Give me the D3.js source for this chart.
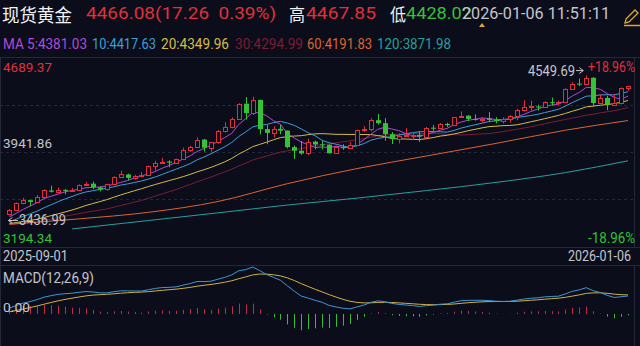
<!DOCTYPE html>
<html>
<head>
<meta charset="utf-8">
<script src="https://cdn.jsdelivr.net/npm/d3@7"></script>
<style>
  html, body { margin: 0; padding: 0; background: #0c0d1b; }
  svg { display: block; }
  text { font-family: Roboto, "Noto Sans", sans-serif; white-space: pre; }
</style>
</head>
<body>
<svg id="chart"></svg>
<script>
// daily candles, spot gold 2025-09-01 .. 2026-01-06
const dates = ['2025-09-01','2025-09-02','2025-09-03','2025-09-04','2025-09-05','2025-09-08','2025-09-09','2025-09-10','2025-09-11','2025-09-12',
  '2025-09-15','2025-09-16','2025-09-17','2025-09-18','2025-09-19','2025-09-22','2025-09-23','2025-09-24','2025-09-25','2025-09-26',
  '2025-09-29','2025-09-30','2025-10-01','2025-10-02','2025-10-03','2025-10-06','2025-10-07','2025-10-08','2025-10-09','2025-10-10',
  '2025-10-13','2025-10-14','2025-10-15','2025-10-16','2025-10-17','2025-10-20','2025-10-21','2025-10-22','2025-10-23','2025-10-24',
  '2025-10-27','2025-10-28','2025-10-29','2025-10-30','2025-10-31','2025-11-03','2025-11-04','2025-11-05','2025-11-06','2025-11-07',
  '2025-11-10','2025-11-11','2025-11-12','2025-11-13','2025-11-14','2025-11-17','2025-11-18','2025-11-19','2025-11-20','2025-11-21',
  '2025-11-24','2025-11-25','2025-11-26','2025-11-27','2025-11-28','2025-12-01','2025-12-02','2025-12-03','2025-12-04','2025-12-05',
  '2025-12-08','2025-12-09','2025-12-10','2025-12-11','2025-12-12','2025-12-15','2025-12-16','2025-12-17','2025-12-18','2025-12-19',
  '2025-12-22','2025-12-23','2025-12-24','2025-12-26','2025-12-29','2025-12-30','2025-12-31','2026-01-02','2026-01-05','2026-01-06'];
const opens = [3448,3477,3533,3559,3545,3587,3636,3626,3641,3634, 3643,3679,3690,3660,3644,3685,3746,3763,3736,3749,
  3760,3833,3858,3866,3857,3887,3960,3985,4041,3976, 4018,4110,4142,4208,4326,4251,4356,4124,4094,4126,
  4112,3981,3952,3930,4024,4002,4000,3932,3980,3977, 4000,4115,4128,4195,4171,4084,4046,4067,4077,4078,
  4065,4135,4131,4165,4155,4218,4231,4205,4200,4208, 4197,4189,4208,4228,4278,4300,4304,4302,4338,4332,
  4339,4444,4486,4479,4532,4332,4372,4319,4330,4448];
const highs = [3489,3540,3578,3564,3600,3646,3674,3658,3648,3656, 3685,3703,3707,3668,3687,3749,3791,3770,3761,3782,
  3834,3872,3895,3876,3889,3977,3990,4059,4045,4022, 4117,4179,4218,4330,4379,4381,4358,4162,4147,4159,
  4114,3994,4030,4047,4032,4030,4003,3991,4003,4020, 4120,4148,4210,4245,4211,4100,4090,4133,4100,4107,
  4141,4157,4172,4174,4220,4264,4234,4241,4218,4259, 4219,4218,4236,4286,4353,4350,4318,4345,4375,4351,
  4449,4497,4526,4549.69,4538,4402,4389,4402,4454,4467.85];
const lows = [3436.99,3470,3526,3511,3535,3578,3620,3621,3605,3627, 3634,3675,3646,3628,3634,3680,3735,3717,3722,3740,
  3758,3793,3849,3821,3846,3885,3942,3980,3945,3944, 4007,4097,4130,4202,4200,4237,4082,4004,4056,4083,
  3970,3886,3920,3918,3962,3962,3929,3930,3960,3972, 3997,4102,4104,4160,4032,4005,4010,4060,4040,4022,
  4040,4110,4127,4141,4150,4215,4187,4191,4176,4187, 4170,4169,4176,4195,4264,4272,4271,4297,4310,4309,
  4338,4436,4466,4478,4304,4330,4274,4316,4320,4428];
const closes = [3477,3533,3559,3545,3586,3636,3626,3641,3634,3643, 3679,3690,3660,3644,3685,3746,3763,3736,3749,3760,
  3833,3858,3866,3857,3887,3960,3985,4041,3976,4018, 4110,4142,4208,4326,4251,4356,4124,4094,4126,4112,
  3981,3952,3930,4024,4002,4000,3932,3980,3977,4000, 4115,4128,4195,4171,4084,4046,4067,4077,4078,4065,
  4135,4131,4165,4155,4218,4231,4205,4200,4208,4197, 4189,4208,4228,4278,4300,4304,4302,4338,4332,4339,
  4444,4486,4479,4532,4332,4372,4319,4330,4448,4466.08];
// closes before the window (2025-07-18 .. 2025-08-29), warm-up for MA / MACD
const prevCloses = [3350,3397,3431,3387,3368,3337,3314,3326,3275,3289, 3363,3373,3381,3369,3397,3398,3341,3348,3356,3335,
  3336,3332,3315,3347,3339,3371,3365,3393,3397,3416,3448];
// long averages (candle index -> value)
const ma60Idx  = [0, 10, 20, 30, 40, 50, 60, 70, 80, 89];
const ma60Val  = [3368, 3410, 3462, 3548, 3690, 3810, 3910, 4010, 4115, 4191.83];
const ma120Idx = [9, 20, 30, 40, 50, 60, 70, 80, 89];
const ma120Val = [3330, 3397, 3458, 3520, 3575, 3635, 3700, 3778, 3871.98];

const priceTop = 4689.37, priceBottom = 3194.34, priceMid = 3941.86;

const W = 640, H = 346;
const bg = '#0c0d1b', red = '#e0303c', green = '#36c236', grid = '#252838', grey = '#c4c4cc';
const maColors = {5: '#b04ad8', 10: '#3a9fd8', 20: '#d4bc46', 30: '#7a1c34', 60: '#dc6430', 120: '#279f9c'};

const svg = d3.select('#chart').attr('width', W).attr('height', H);
svg.append('rect').attr('width', W).attr('height', H).attr('fill', bg);

function label(s, x, yy, color, size, len, anchor, family) {
  const t = svg.append('text').attr('x', x).attr('y', yy).text(s)
    .attr('fill', color).style('font-size', size + 'px')
    .attr('text-anchor', anchor || 'start');
  if (family) t.style('font-family', family);
  if (len) t.attr('textLength', len).attr('lengthAdjust', 'spacingAndGlyphs');
  return t;
}

// ---------- header ----------
const cjk = '"Noto Sans CJK SC", sans-serif';
label('现货黄金', 2, 22, '#f2f2f2', 18, 70, 'start', cjk);
label('4466.08(17.26  0.39%)', 86, 19, red, 17, 190);
label('高', 289, 21, '#f2f2f2', 17, 16, 'start', cjk);
label('4467.85', 306, 19, red, 17, 70);
label('低', 390, 21, '#f2f2f2', 17, 16, 'start', cjk);
label('4428.02', 406, 19, green, 17, 66);
label('2026-01-06 11:51:11', 462, 19, grey, 16, 148);
svg.append('path').attr('d', 'M479,27 L485,27 L482,23 Z').attr('fill', '#d8a830');
// pencil icon
svg.append('path').attr('d', 'M626,19 L635,10 L638,13 L629,22 L625,23 Z M624,25.5 L640,25.5')
  .attr('fill', 'none').attr('stroke', '#d8a830').attr('stroke-width', 1.3);

label('MA 5:4381.03', 3, 49, maColors[5], 14, 84);
label('10:4417.63', 92, 49, maColors[10], 14, 64);
label('20:4349.96', 161, 49, maColors[20], 14, 68);
label('30:4294.99', 235, 49, maColors[30], 14, 68);
label('60:4191.83', 307, 49, maColors[60], 14, 65);
label('120:3871.98', 377, 49, maColors[120], 14, 74);

// ---------- main panel ----------
const x = d3.scaleLinear().domain([0, closes.length - 1]).range([9.4, 628]);
const y = d3.scaleLinear().domain([priceBottom, priceTop]).range([246, 58]);

svg.append('line').attr('x1', 0).attr('x2', W).attr('y1', 57.5).attr('y2', 57.5).attr('stroke', grid);
svg.append('line').attr('x1', 0).attr('x2', W).attr('y1', 247.5).attr('y2', 247.5).attr('stroke', grid);
svg.append('line').attr('x1', 0).attr('x2', W).attr('y1', 265.5).attr('y2', 265.5).attr('stroke', grid);
svg.append('line').attr('x1', 634.5).attr('x2', 634.5).attr('y1', 57).attr('y2', 247).attr('stroke', grid);
svg.append('line').attr('x1', 634.5).attr('x2', 634.5).attr('y1', 265).attr('y2', H).attr('stroke', grid);
svg.append('line').attr('x1', 0.5).attr('x2', 0.5).attr('y1', 57).attr('y2', H).attr('stroke', grid);
[1, 2, 3].forEach((k) => {
  const yy = Math.round(y(priceBottom + (priceTop - priceBottom) * k / 4)) + 0.5;
  svg.append('line').attr('x1', 0).attr('x2', 634).attr('y1', yy).attr('y2', yy)
    .attr('stroke', grid).attr('stroke-dasharray', '3,3');
});

svg.append('clipPath').attr('id', 'clipMain').append('rect')
  .attr('x', 0).attr('y', 58).attr('width', 634).attr('height', 189);

// moving averages from closes
const allCloses = prevCloses.concat(closes);
const off = prevCloses.length;
function movingAvg(n) {
  return closes.map((c, i) => {
    const j = off + i;
    return d3.mean(allCloses.slice(j - n + 1, j + 1));
  });
}
const maLine = d3.line().x((d) => x(d[0])).y((d) => y(d[1]));
const gMA = svg.append('g').attr('clip-path', 'url(#clipMain)');
[30, 20, 10, 5].forEach((n) => {
  const vals = movingAvg(n).map((v, i) => [i, v]);
  gMA.append('path').datum(vals).attr('d', maLine)
    .attr('fill', 'none').attr('stroke', maColors[n]).attr('stroke-width', 1);
});
const smooth = d3.line().x((d) => x(d[0])).y((d) => y(d[1])).curve(d3.curveMonotoneX);
gMA.append('path').datum(ma60Idx.map((k, i) => [k, ma60Val[i]])).attr('d', smooth)
  .attr('fill', 'none').attr('stroke', maColors[60]).attr('stroke-width', 1);
gMA.append('path').datum(ma120Idx.map((k, i) => [k, ma120Val[i]])).attr('d', smooth)
  .attr('fill', 'none').attr('stroke', maColors[120]).attr('stroke-width', 1);

// candles
const gC = svg.append('g');
closes.forEach((c, i) => {
  const o = opens[i], cx = Math.round(x(i));
  const up = c >= o;
  const yTop = y(Math.max(o, c)), yBot = y(Math.min(o, c));
  const hi = y(highs[i]), lo = y(lows[i]);
  if (up) {
    const t = Math.round(yTop) + 0.5, b = Math.max(Math.round(yBot) + 0.5, t + 1);
    gC.append('line').attr('x1', cx + 0.5).attr('x2', cx + 0.5).attr('y1', hi).attr('y2', t).attr('stroke', red);
    gC.append('line').attr('x1', cx + 0.5).attr('x2', cx + 0.5).attr('y1', b).attr('y2', lo).attr('stroke', red);
    gC.append('rect').attr('x', cx - 1.5).attr('y', t).attr('width', 4).attr('height', b - t)
      .attr('fill', bg).attr('stroke', red).attr('stroke-width', 1);
  } else {
    gC.append('line').attr('x1', cx + 0.5).attr('x2', cx + 0.5).attr('y1', hi).attr('y2', lo).attr('stroke', green);
    gC.append('rect').attr('x', cx - 2).attr('y', yTop).attr('width', 5).attr('height', Math.max(1, yBot - yTop))
      .attr('fill', green);
  }
});

// price scale labels
label(priceTop.toFixed(2), 3, 71.5, red, 13.5, 49);
label(priceMid.toFixed(2), 3, 148, grey, 13.5, 49);
label(priceBottom.toFixed(2), 3, 242.5, green, 13.5, 49);
const pct = ((priceTop / priceMid - 1) * 100).toFixed(2);
label('+' + pct + '%', 635, 72, red, 14, 47, 'end');
label('-' + pct + '%', 635, 242.5, green, 14, 47, 'end');

// extreme markers
const iHi = d3.maxIndex(highs), iLo = d3.minIndex(lows);
const yHiL = y(highs[iHi]) - 5, yLoL = y(lows[iLo]) + 5;
label(highs[iHi].toFixed(2), 575, yHiL + 5, grey, 14, 47, 'end');
const ax = x(iHi) - 3;
svg.append('path').attr('d', `M576,${yHiL} L${ax},${yHiL} M${ax - 4},${yHiL - 3} L${ax},${yHiL} L${ax - 4},${yHiL + 3}`)
  .attr('fill', 'none').attr('stroke', grey).attr('stroke-width', 1);
svg.append('path').attr('d', `M${x(iLo) - 1},${yLoL} L18,${yLoL} M${x(iLo) + 3},${yLoL - 3} L${x(iLo) - 1},${yLoL} L${x(iLo) + 3},${yLoL + 3}`)
  .attr('fill', 'none').attr('stroke', grey).attr('stroke-width', 1);
label(lows[iLo].toFixed(2), 19, yLoL + 5, grey, 14, 47);

// dates
label(dates[0], 3, 260.5, grey, 14, 65);
label(dates[dates.length - 1], 631, 260.5, grey, 14, 63, 'end');

// ---------- MACD panel ----------
function ema(arr, n) {
  const k = 2 / (n + 1);
  const out = [arr[0]];
  for (let i = 1; i < arr.length; i++) out.push(arr[i] * k + out[i - 1] * (1 - k));
  return out;
}
const e12 = ema(allCloses, 12), e26 = ema(allCloses, 26);
const difAll = e12.map((v, i) => v - e26[i]);
const deaAll = ema(difAll, 9);
const dif = difAll.slice(off), dea = deaAll.slice(off);
const histFactor = 1.3;
const hist = dif.map((v, i) => histFactor * (v - dea[i]));

const yM = d3.scaleLinear().domain([0, d3.max(dif)]).range([314, 267]);
const gM = svg.append('g');
hist.forEach((h, i) => {
  const cx = Math.round(x(i)) + 0.5;
  gM.append('line').attr('x1', cx).attr('x2', cx).attr('y1', yM(0)).attr('y2', yM(h))
    .attr('stroke', h >= 0 ? '#c42a44' : '#3cb83c').attr('stroke-width', 1);
});
const mLine = d3.line().x((d, i) => x(i)).y((d) => yM(d));
gM.append('path').datum(dea).attr('d', mLine).attr('fill', 'none').attr('stroke', '#d2b044').attr('stroke-width', 1);
gM.append('path').datum(dif).attr('d', mLine).attr('fill', 'none').attr('stroke', '#3a98d4').attr('stroke-width', 1);

label('MACD(12,26,9)', 3, 283, grey, 15, 91);
label('0.00', 3, 311.5, grey, 13.5, 27);
</script>
</body>
</html>
